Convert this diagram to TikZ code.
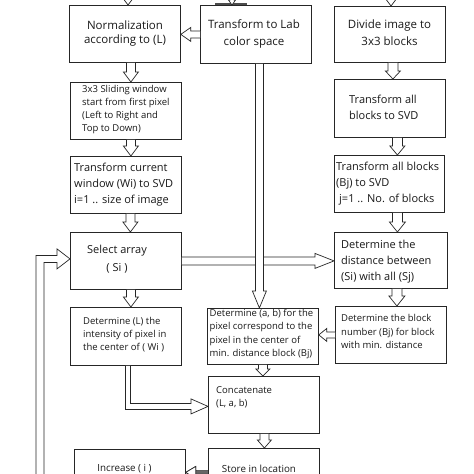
\documentclass[tikz,border=0pt]{standalone}
\usepackage{fontspec}
\setmainfont{Open Sans}
\usetikzlibrary{calc}
\tikzset{
  box/.style={draw=black!85, line width=0.8pt, anchor=north west, inner sep=0pt},
  barrow/.style={draw=black!85, line width=0.7pt, fill=white, line join=miter},
  txt/.style={inner sep=0pt, text=black!90},
  bigtxt/.style={txt, font=\fontsize{11}{16}\selectfont},
  smalltxt/.style={txt, font=\fontsize{9.5}{13.2}\selectfont},
}
% down block arrow: #2 start (x,y), #3 end (y), #4 shaft half, #5 head half, #6 head length
\newcommand\dnarr[6][]{\draw[barrow,#1] let \p1=(#2), \p2=(#3) in
  (\x1-#4pt,\y1) -- (\x1-#4pt,\y2+#6pt) -- (\x1-#5pt,\y2+#6pt) -- (\x1,\y2) --
  (\x1+#5pt,\y2+#6pt) -- (\x1+#4pt,\y2+#6pt) -- (\x1+#4pt,\y1);}
% left block arrow
\newcommand\lfarr[6][]{\draw[barrow,#1] let \p1=(#2), \p2=(#3) in
  (\x1,\y1+#4pt) -- (\x2+#6pt,\y1+#4pt) -- (\x2+#6pt,\y1+#5pt) -- (\x2,\y1) --
  (\x2+#6pt,\y1-#5pt) -- (\x2+#6pt,\y1-#4pt) -- (\x1,\y1-#4pt);}
% right block arrow
\newcommand\rtarr[6][]{\draw[barrow,#1] let \p1=(#2), \p2=(#3) in
  (\x1,\y1+#4pt) -- (\x2-#6pt,\y1+#4pt) -- (\x2-#6pt,\y1+#5pt) -- (\x2,\y1) --
  (\x2-#6pt,\y1-#5pt) -- (\x2-#6pt,\y1-#4pt) -- (\x1,\y1-#4pt);}
\begin{document}
\begin{tikzpicture}[x=1pt,y=-1pt]
\useasboundingbox (0,0) rectangle (474,474);
\clip (0,0) rectangle (474,474);
\fill[white] (0,0) rectangle (474,474);

% boxes
\node[box, minimum width=111pt, minimum height=57pt] (norm)   at (69,5)   {};
\node[box, minimum width=111pt, minimum height=58pt] (lab)    at (200,5)  {};
\node[box, minimum width=111pt, minimum height=56pt] (divide) at (334,6)  {};
\node[box, minimum width=111pt, minimum height=57pt] (slide)  at (70,82)  {};
\node[box, minimum width=111pt, minimum height=58pt] (tab)    at (334,79) {};
\node[box, minimum width=111pt, minimum height=57pt] (cur)    at (70,156) {};
\node[box, minimum width=110pt, minimum height=57pt] (bj)     at (334,155){};
\node[box, minimum width=111pt, minimum height=57pt] (sel)    at (70,232) {};
\node[box, minimum width=113pt, minimum height=56pt] (dist)   at (334,232){};
\node[box, minimum width=111pt, minimum height=58pt] (detL)   at (70,307) {};
\node[box, minimum width=111pt, minimum height=56pt] (detAB)  at (207,308){};
\node[box, minimum width=111pt, minimum height=57pt] (blk)    at (335,306){};
\node[box, minimum width=111pt, minimum height=57pt] (conc)   at (208,376){};
\node[box, minimum width=111pt, minimum height=60pt] (inc)    at (74,449) {};
\node[box, minimum width=111pt, minimum height=60pt] (store)  at (208,448){};

% texts
\node[txt, font=\fontsize{11.5}{13.3}\selectfont, align=center] (normT) at (125,33.5) {Normalization\\according to (L)};
\node[txt, font=\fontsize{11.5}{17}\selectfont, align=center] (labT) at (254,34) {Transform to Lab\\color space};
\node[txt, font=\fontsize{11.5}{17}\selectfont, align=center] (divT) at (389.5,33) {Divide image to\\3x3 blocks};
\node[smalltxt, align=left, anchor=west] (slideT) at (82,109.5) {3x3 Sliding window\\start from first pixel\\(Left to Right and\\Top to Down)};
\node[bigtxt, align=left, anchor=west] (tabT) at (349,107) {Transform all\\blocks to SVD};
\node[bigtxt, align=left, anchor=west] (curT) at (74,184.5) {Transform current\\window (Wi) to SVD\\i=1 .. size of image};
\node[bigtxt, align=left, anchor=west] (bjT) at (336,183.5) {Transform all blocks\\(Bj) to SVD\\\hspace*{3pt}j=1 .. No. of blocks};
\node[txt, font=\fontsize{11}{18}\selectfont, align=center] (selT) at (117,259.5) {Select array\\( Si )};
\node[bigtxt, align=left, anchor=west] (distT) at (341,261.5) {Determine the\\distance between\\(Si) with all (Sj)};
\node[smalltxt, align=left, anchor=west] (detLT) at (83,334.5) {Determine (L) the\\intensity of pixel in\\the center of ( Wi )};
\node[smalltxt, align=left, anchor=west] (detABT) at (209.5,334) {Determine (a, b) for the\\pixel correspond to the\\pixel in the center of\\min. distance block (Bj)};
\node[smalltxt, align=left, anchor=west] (blkT) at (341,331.5) {Determine the block\\number (Bj) for block\\with min. distance};
\node[smalltxt, align=left, anchor=west] (concT) at (216,397) {Concatenate\\(L, a, b)};
\node[txt, font=\fontsize{9.8}{12}\selectfont] (incT) at (124.5,468.5) {Increase ( i )};
\node[txt, font=\fontsize{9.8}{12}\selectfont] (storeT) at (259,468.5) {Store in location};

% incoming arrows from above the frame
\coordinate (topN) at (128,-30);
\coordinate (topD) at (391,-30);
\coordinate (topL) at (232,-30);
\coordinate (barL) at (215,4);
\coordinate (barR) at (247,4);
\dnarr{topN}{norm.north}{4.5}{7.5}{10}
\dnarr{topD}{divide.north}{4.5}{7.5}{10}
\draw[line width=1.3pt, black!70] (barL) -- (barR);
\dnarr{topL}{lab.north}{2}{3.5}{5}

% left column
\lfarr{lab.west}{norm.east}{3.5}{7}{10}
\dnarr{[xshift=6pt]norm.south}{slide.north}{4.5}{7.5}{10}
\dnarr{[xshift=5pt]slide.south}{cur.north}{4.5}{7.5}{10}
\dnarr{[xshift=4.5pt]cur.south}{sel.north}{4.5}{7.5}{10}
\dnarr{[xshift=5pt]sel.south}{detL.north}{4.5}{7.5}{10}

% right column
\dnarr{[xshift=3pt]divide.south}{tab.north}{5}{7.5}{8}
\dnarr{[xshift=7.5pt]tab.south}{bj.north}{5}{7.5}{9}
\dnarr{[xshift=8pt]bj.south}{dist.north}{5}{8}{10}
\dnarr{[xshift=6pt]dist.south}{blk.north}{5}{8}{10}
\lfarr{blk.west}{detAB.east}{3}{6.5}{8}

% select -> distance (under the long vertical arrow)
\rtarr{sel.east}{dist.west}{4}{7.5}{19}
% Lab -> determine (a,b)
\dnarr{[xshift=3.5pt]lab.south}{detAB.north}{4}{7}{17}

% middle column
\dnarr{detAB.south}{conc.north}{4.5}{7}{7}
\dnarr{[xshift=0.5pt]conc.south}{store.north}{4.5}{7}{8}

% determine (L) -> concatenate
\draw[barrow] let \p1=([xshift=2pt]detL.south), \p2=([yshift=-1.5pt]conc.west) in
  (\x1-2.5pt,\y1) -- (\x1-2.5pt,\y2-3pt) -- (\x2-17pt,\y2-3pt) -- (\x2-17pt,\y2-7.5pt) --
  (\x2,\y2) -- (\x2-17pt,\y2+7.5pt) -- (\x2-17pt,\y2+3pt) -- (\x1+2.5pt,\y2+3pt) -- (\x1+2.5pt,\y1);

% store -> increase
\lfarr[fill=black!60]{[yshift=6pt]store.west}{inc.east}{1.8}{6}{10}
\draw[barrow] let \p1=([yshift=6pt]store.west), \p2=(inc.east) in
  (\x2+10pt,\y1+6pt) -- (\x2,\y1) -- (\x2+10pt,\y1-6pt) -- cycle;

% feedback loop into select array
\coordinate (loopS) at (40,500);
\draw[barrow] let \p1=(loopS), \p2=([yshift=2pt]sel.west) in
  (\x1-4pt,\y1) -- (\x1-4pt,\y2+3.5pt) -- (\x2-13pt,\y2+3.5pt) -- (\x2-13pt,\y2+10pt) --
  (\x2,\y2) -- (\x2-13pt,\y2-10pt) -- (\x2-13pt,\y2-3.5pt) -- (\x1+4pt,\y2-3.5pt) -- (\x1+4pt,\y1);
\end{tikzpicture}
\end{document}
